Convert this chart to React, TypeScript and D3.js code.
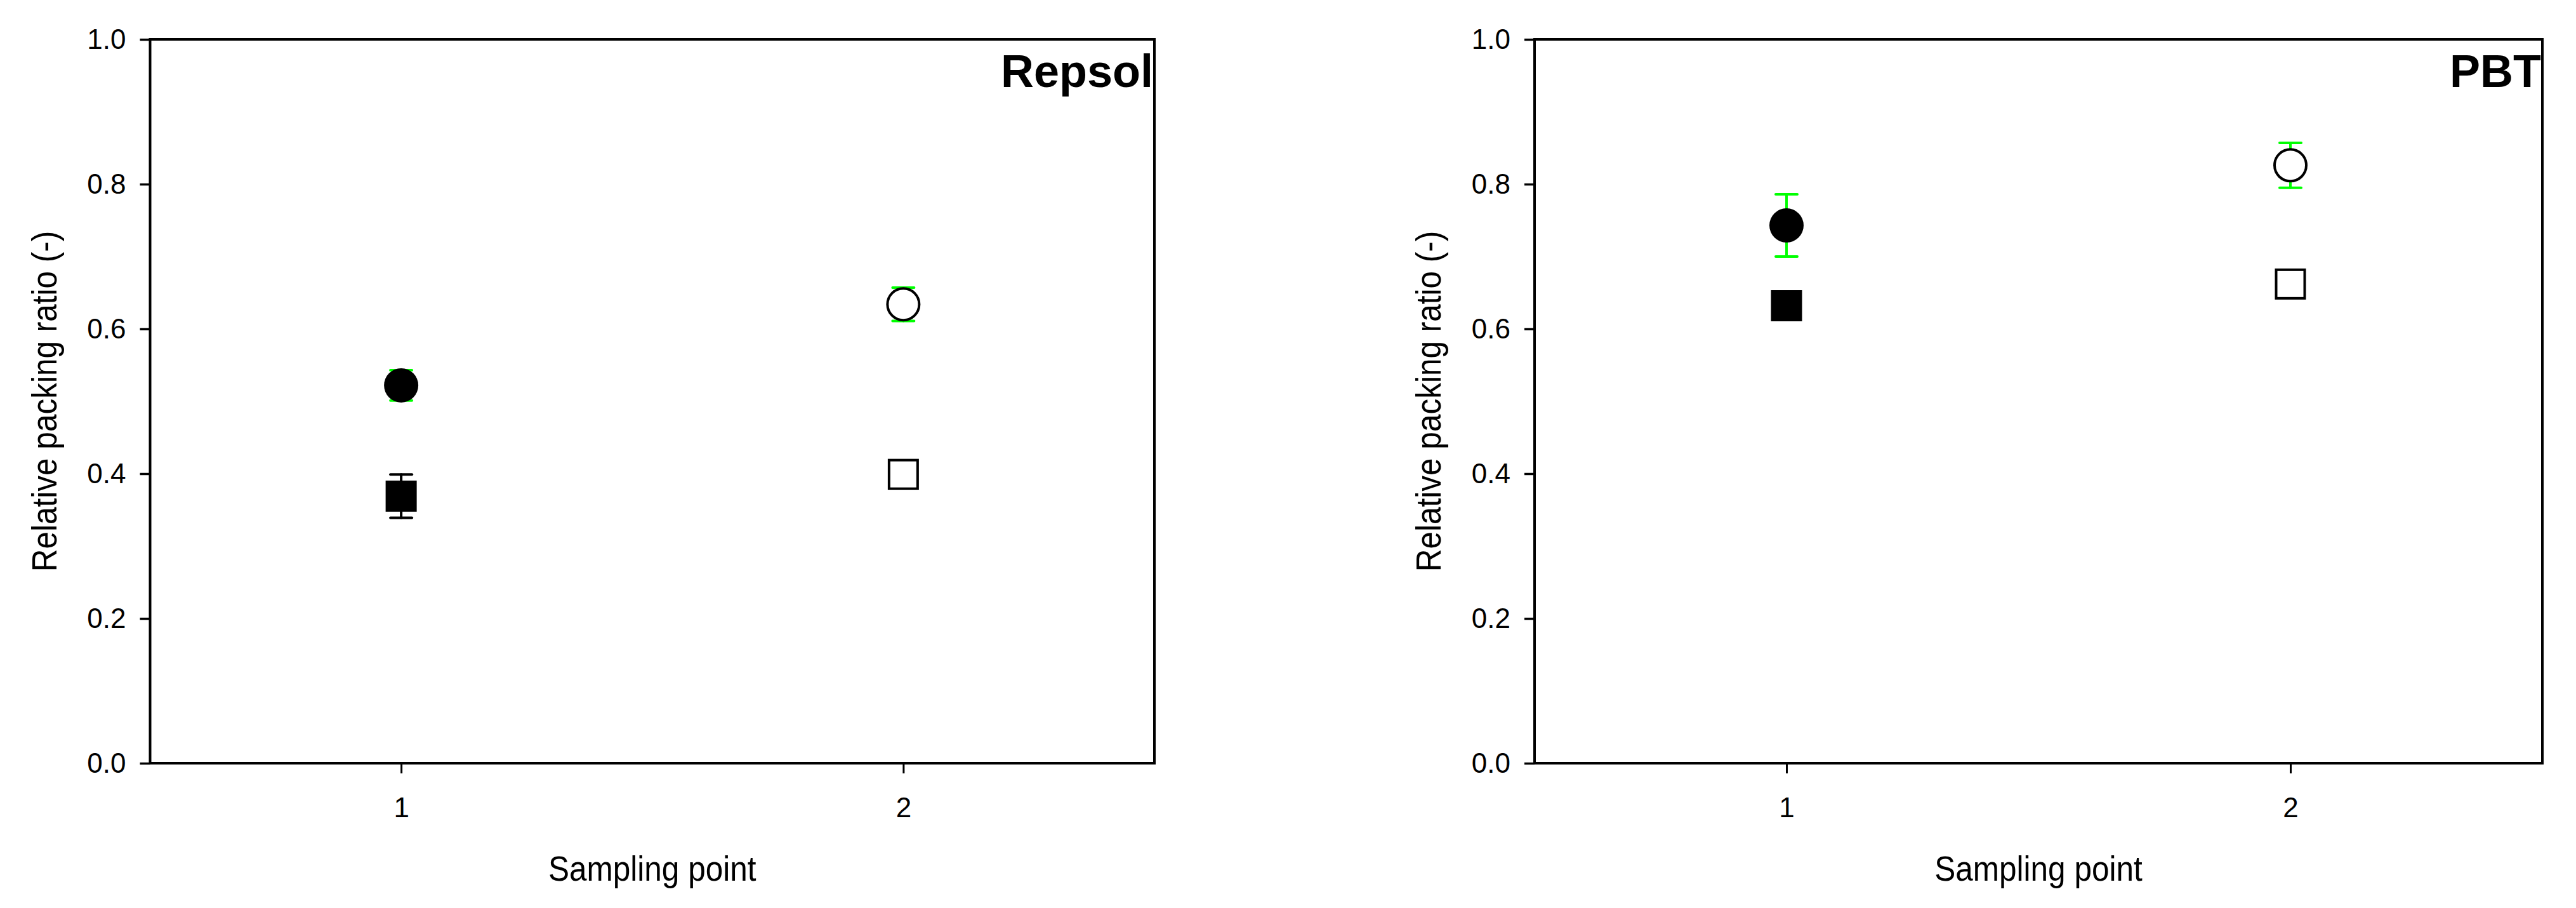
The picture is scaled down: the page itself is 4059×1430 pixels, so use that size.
import React, { useEffect, useRef } from "react"
import * as d3 from "d3"

// sampling points on the x axis
const samplingPoints = [1, 2]
const yTicks = [0.0, 0.2, 0.4, 0.6, 0.8, 1.0]

// Repsol panel
const repsolFilledCircle = [{ x: 1, y: 0.522, err: 0.021 }]
const repsolFilledSquare = [{ x: 1, y: 0.369, err: 0.03 }]
const repsolOpenCircle = [{ x: 2, y: 0.634, err: 0.023 }]
const repsolOpenSquare = [{ x: 2, y: 0.399, err: 0.008 }]

// PBT panel
const pbtFilledCircle = [{ x: 1, y: 0.743, err: 0.043 }]
const pbtFilledSquare = [{ x: 1, y: 0.632, err: 0.008 }]
const pbtOpenCircle = [{ x: 2, y: 0.826, err: 0.031 }]
const pbtOpenSquare = [{ x: 2, y: 0.662, err: 0.008 }]

const panels = [
  { title: "Repsol", left: 236.5, right: 1819, fc: repsolFilledCircle, fs: repsolFilledSquare, oc: repsolOpenCircle, os: repsolOpenSquare },
  { title: "PBT", left: 2418, right: 4006, fc: pbtFilledCircle, fs: pbtFilledSquare, oc: pbtOpenCircle, os: pbtOpenSquare }
]

const W = 4059
const H = 1430
const top = 62
const bottom = 1202
const font = "'Liberation Sans', Arial, sans-serif"

function drawPanel(svg, p) {
  const x = d3.scaleLinear().domain([0.5, 2.5]).range([p.left, p.right])
  const y = d3.scaleLinear().domain([0, 1]).range([bottom, top])
  const g = svg.append("g")

  // y axis
  const yAxis = g.append("g")
    .attr("transform", "translate(" + p.left + ",0)")
    .call(d3.axisLeft(y).tickValues(yTicks).tickSize(16).tickPadding(22).tickFormat(d3.format(".1f")))
  yAxis.select(".domain").remove()
  yAxis.selectAll("line").attr("stroke", "black").attr("stroke-width", 3.5)
  yAxis.selectAll("text").attr("font-family", font).attr("font-size", 44).attr("fill", "black")

  // x axis
  const xAxis = g.append("g")
    .attr("transform", "translate(0," + bottom + ")")
    .call(d3.axisBottom(x).tickValues(samplingPoints).tickSize(16).tickPadding(38).tickFormat(d3.format("d")))
  xAxis.select(".domain").remove()
  xAxis.selectAll("line").attr("stroke", "black").attr("stroke-width", 3)
  xAxis.selectAll("text").attr("font-family", font).attr("font-size", 44).attr("fill", "black")

  // frame
  g.append("rect")
    .attr("x", p.left).attr("y", top)
    .attr("width", p.right - p.left).attr("height", bottom - top)
    .attr("fill", "none").attr("stroke", "black").attr("stroke-width", 4)

  // axis titles (slightly condensed, like the original)
  g.append("text")
    .attr("transform", "translate(" + (p.left + p.right) / 2 + ",1387) scale(0.9,1)")
    .attr("text-anchor", "middle")
    .attr("font-family", font).attr("font-size", 55)
    .text("Sampling point")

  g.append("text")
    .attr("transform", "translate(" + (p.left - 148) + "," + (top + bottom) / 2 + ") rotate(-90) scale(0.9,1)")
    .attr("text-anchor", "middle")
    .attr("font-family", font).attr("font-size", 55)
    .text("Relative packing ratio (-)")

  g.append("text")
    .attr("x", p.right - 2).attr("y", 137)
    .attr("text-anchor", "end")
    .attr("font-family", font).attr("font-size", 72).attr("font-weight", "bold")
    .text(p.title)

  // error bars
  const errBars = (data, color) => {
    const e = g.append("g").attr("stroke", color).attr("stroke-width", 4).attr("stroke-linecap", "round")
    data.forEach(d => {
      e.append("line").attr("x1", x(d.x)).attr("x2", x(d.x)).attr("y1", y(d.y - d.err)).attr("y2", y(d.y + d.err))
      e.append("line").attr("x1", x(d.x) - 17).attr("x2", x(d.x) + 17).attr("y1", y(d.y - d.err)).attr("y2", y(d.y - d.err))
      e.append("line").attr("x1", x(d.x) - 17).attr("x2", x(d.x) + 17).attr("y1", y(d.y + d.err)).attr("y2", y(d.y + d.err))
    })
  }
  errBars(p.fs, "black")
  errBars(p.os, "black")
  errBars(p.fc, "#00ff00")
  errBars(p.oc, "#00ff00")

  // markers
  g.selectAll(".fc").data(p.fc).enter().append("circle")
    .attr("cx", d => x(d.x)).attr("cy", d => y(d.y)).attr("r", 27).attr("fill", "black")
  g.selectAll(".oc").data(p.oc).enter().append("circle")
    .attr("cx", d => x(d.x)).attr("cy", d => y(d.y)).attr("r", 25)
    .attr("fill", "white").attr("stroke", "black").attr("stroke-width", 4)
  g.selectAll(".fs").data(p.fs).enter().append("rect")
    .attr("x", d => x(d.x) - 24.5).attr("y", d => y(d.y) - 24.5).attr("width", 49).attr("height", 49)
    .attr("fill", "black")
  g.selectAll(".os").data(p.os).enter().append("rect")
    .attr("x", d => x(d.x) - 22.5).attr("y", d => y(d.y) - 22.5).attr("width", 45).attr("height", 45)
    .attr("fill", "white").attr("stroke", "black").attr("stroke-width", 4)
}

export default function App() {
  const ref = useRef(null)

  useEffect(() => {
    const svg = d3.select(ref.current)
    svg.selectAll("*").remove()
    svg.append("rect").attr("width", W).attr("height", H).attr("fill", "white")
    panels.forEach(p => drawPanel(svg, p))
  }, [])

  return (
    <svg ref={ref} width={W} height={H} style={{ position: "absolute", left: 0, top: 0 }} />
  )
}
